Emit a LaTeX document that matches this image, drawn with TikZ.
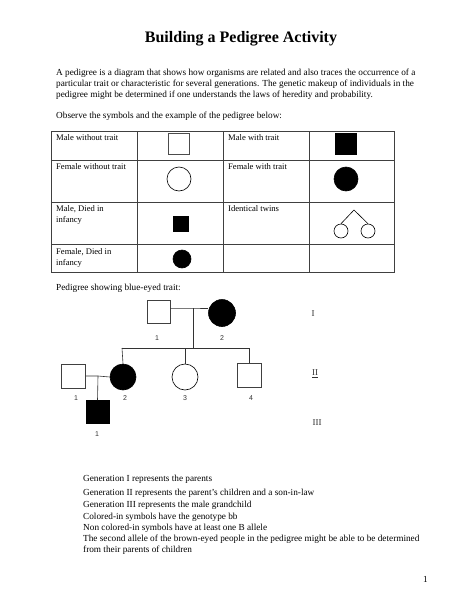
\documentclass[tikz,border=0pt]{standalone}
\usepackage{fontspec}
\setmainfont{Liberation Serif}
\newfontfamily\numfont{Liberation Sans}
\begin{document}
\begin{tikzpicture}[x=1pt,y=-1pt,
  txt/.style={anchor=base west,inner sep=0pt,font=\fontsize{9.25}{11}\selectfont},
  celltxt/.style={anchor=base west,inner sep=0pt,font=\fontsize{8.6}{11}\selectfont},
  grid/.style={draw=black!75,line width=0.7pt},
  sym/.style={draw=black,line width=0.6pt},
  filled/.style={sym,fill=black},
  pline/.style={draw=black!80,line width=0.6pt},
  num/.style={inner sep=0pt,font=\numfont\fontsize{7}{8}\selectfont,text=black!80},
  gen/.style={inner sep=0pt,font=\fontsize{9}{9}\selectfont,text=black!80}]
\useasboundingbox[fill=white] (0,0) rectangle (474,613);
% title
\node[anchor=base,inner sep=0pt,font=\bfseries\fontsize{16}{18}\selectfont] (title) at (241,42) {Building a Pedigree Activity};
% intro
\node[txt] (p1) at (56,75) {A pedigree is a diagram that shows how organisms are related and also traces the occurrence of a};
\node[txt] (p2) at (56,86) {particular trait or characteristic for several generations. The genetic makeup of individuals in the};
\node[txt] (p3) at (56,97) {pedigree might be determined if one understands the laws of heredity and probability.};
\node[txt] (p4) at (56,118) {Observe the symbols and the example of the pedigree below:};
% table
\draw[grid] (51,131) rectangle (394,272);
\foreach \yy in {160,202,244} \draw[grid] (51,\yy) -- (394,\yy);
\foreach \xx in {137,223,309} \draw[grid] (\xx,131) -- (\xx,272);
\node[celltxt] (c1) at (56,140) {Male without trait};
\node[celltxt] (c2) at (228,140) {Male with trait};
\node[celltxt] (c3) at (56,169) {Female without trait};
\node[celltxt] (c4) at (228,169) {Female with trait};
\node[celltxt] (c5) at (56,211) {Male, Died in};
\node[celltxt] (c5b) at (56,222) {infancy};
\node[celltxt] (c6) at (228,211) {Identical twins};
\node[celltxt] (c7) at (56,254) {Female, Died in};
\node[celltxt] (c7b) at (56,265) {infancy};
% symbols
\node[sym,draw=black!70,minimum size=21pt,inner sep=0pt] (s1) at (179,144) {};
\node[filled,minimum size=21pt,inner sep=0pt] (s2) at (346,144) {};
\node[sym,circle,minimum size=24pt,inner sep=0pt] (s3) at (179,179) {};
\node[filled,circle,minimum size=24pt,inner sep=0pt] (s4) at (346,179) {};
\node[filled,minimum size=15pt,inner sep=0pt] (s5) at (181,224) {};
\node[filled,circle,minimum size=18pt,inner sep=0pt] (s6) at (182,259) {};
\coordinate (tw) at (354,210);
\node[sym,circle,minimum size=14pt,inner sep=0pt] (t1) at (341,231) {};
\node[sym,circle,minimum size=14pt,inner sep=0pt] (t2) at (368,231) {};
\draw[sym] (t1.north) -- (tw) -- (t2.north);
% pedigree
\node[txt] (ph) at (56,290) {Pedigree showing blue-eyed trait:};
\node[sym,draw=black!75,minimum size=23pt,inner sep=0pt] (i1) at (158.5,312) {};
\node[filled,circle,minimum size=27pt,inner sep=0pt] (i2) at (222,313) {};
\coordinate (m1) at (193,308);
\coordinate (sib) at (193,348);
\coordinate (sibL) at (122,348);
\coordinate (sibR) at (249,348);
\draw[pline] (i1.east |- m1) -- (m1) -- (i2.west |- m1);
\draw[pline] (m1) -- (sib);
\draw[pline] (sibL) -- (sibR);
\node[sym,draw=black!75,minimum size=24pt,inner sep=0pt] (ii1) at (73.5,376) {};
\node[filled,circle,minimum size=26pt,inner sep=0pt] (ii2) at (123,377) {};
\node[sym,circle,minimum size=26pt,inner sep=0pt] (ii3) at (185,377) {};
\node[sym,draw=black!75,minimum size=24pt,inner sep=0pt] (ii4) at (249,375) {};
\draw[pline] (sibL) -- (ii2.north);
\draw[pline,line width=1pt] (sib -| ii3) -- (ii3.north);
\draw[pline] (sibR) -- (ii4.north);
\coordinate (m2) at (98,376);
\draw[pline] (ii1.east) -- (m2) -- (ii2.west);
\node[filled,minimum size=23pt,inner sep=0pt] (iii1) at (97.5,412) {};
\draw[pline] (m2) -- (iii1.north);
% numbers
\node[num] (n11) at (157,338) {1};
\node[num] (n12) at (222,338) {2};
\node[num] (n21) at (76,398) {1};
\node[num] (n22) at (125,398) {2};
\node[num] (n23) at (185,398) {3};
\node[num] (n24) at (251,398) {4};
\node[num] (n31) at (97,434) {1};
\node[gen] (g1) at (313,314) {I};
\node[gen] (g2) at (315,374) {\underline{II}};
\node[gen] (g3) at (317,423) {III};
% bottom text
\node[txt] (b1) at (83,481) {Generation I represents the parents};
\node[txt] (b2) at (83,495) {Generation II represents the parent's children and a son-in-law};
\node[txt] (b3) at (83,507) {Generation III represents the male grandchild};
\node[txt] (b4) at (83,519) {Colored-in symbols have the genotype bb};
\node[txt] (b5) at (83,530) {Non colored-in symbols have at least one B allele};
\node[txt] (b6) at (83,541) {The second allele of the brown-eyed people in the pedigree might be able to be determined};
\node[txt] (b7) at (83,552) {from their parents of children};
\node[txt] (pg) at (423,582) {1};
\end{tikzpicture}
\end{document}
